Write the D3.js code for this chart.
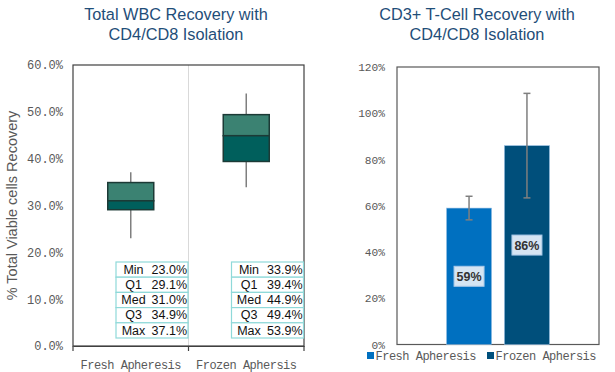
<!DOCTYPE html>
<html>
<head>
<meta charset="utf-8">
<script src="https://cdn.jsdelivr.net/npm/d3@7"></script>
<style>
  body { margin: 0; background: #fff; }
  svg { display: block; }
  .mono { font-family: "Liberation Mono", "DejaVu Sans Mono", monospace; }
</style>
</head>
<body>
<svg id="chart" width="615" height="372"></svg>
<script>
// left chart: box plot
var boxCats = ["Fresh Apheresis", "Frozen Aphersis"];
var boxMin = [0.230, 0.339];
var boxQ1 = [0.291, 0.394];
var boxMed = [0.310, 0.449];
var boxQ3 = [0.349, 0.494];
var boxMax = [0.371, 0.539];
var statNames = ["Min", "Q1", "Med", "Q3", "Max"];
var leftTicks = [0, 0.1, 0.2, 0.3, 0.4, 0.5, 0.6];

// right chart: bars with error bars
var barSeries = ["Fresh Apheresis", "Frozen Aphersis"];
var barValues = [0.59, 0.86];
var barErrors = [0.051, 0.226];
var barColors = ["#0070c0", "#004f7b"];
var rightTicks = [0, 0.2, 0.4, 0.6, 0.8, 1.0, 1.2];

var svg = d3.select("#chart");
var fmt1 = d3.format(".1%");
var fmt0 = d3.format(".0%");

// ---------- left ----------
var L = { left: 73, right: 304, top: 65, bottom: 346 };
var gL = svg.append("g");

gL.append("text").attr("x", 176).attr("y", 20).attr("text-anchor", "middle")
  .attr("font-family", "Liberation Sans, Arial").attr("font-size", 16.3).attr("fill", "#1f4e79")
  .text("Total WBC Recovery with");
gL.append("text").attr("x", 176).attr("y", 40).attr("text-anchor", "middle")
  .attr("font-family", "Liberation Sans, Arial").attr("font-size", 16.3).attr("fill", "#1f4e79")
  .text("CD4/CD8 Isolation");

var xL = d3.scaleBand().domain(boxCats).range([L.left, L.right]).padding(0);
var yL = d3.scaleLinear().domain([0, 0.6]).range([L.bottom, L.top]);

// divider between categories
gL.append("line")
  .attr("x1", xL(boxCats[1])).attr("x2", xL(boxCats[1]))
  .attr("y1", L.top).attr("y2", L.bottom)
  .attr("stroke", "#d9d9d9").attr("stroke-width", 1);

// frame
gL.append("rect").attr("x", L.left).attr("y", L.top)
  .attr("width", L.right - L.left).attr("height", L.bottom - L.top)
  .attr("fill", "none").attr("stroke", "#404040").attr("stroke-width", 1.2);

// y axis labels
var yAxisL = d3.axisLeft(yL).tickValues(leftTicks).tickFormat(fmt1).tickSize(0).tickPadding(10);
var gy = gL.append("g").attr("transform", `translate(${L.left},0)`).call(yAxisL);
gy.select(".domain").remove();
gy.selectAll("text").attr("class", "mono").attr("font-size", 12).attr("fill", "#595959");

// x axis
var xAxisL = d3.axisBottom(xL).tickSize(0).tickPadding(14);
var gx = gL.append("g").attr("transform", `translate(0,${L.bottom})`).call(xAxisL);
gx.select(".domain").attr("stroke", "#404040").attr("stroke-width", 1.2);
gx.selectAll("text").attr("class", "mono").attr("font-size", 12)
  .attr("letter-spacing", -0.5).attr("fill", "#595959");
// tick marks at band boundaries
gL.selectAll(".bt").data([L.left, xL(boxCats[1]), L.right]).enter().append("line")
  .attr("x1", d => d).attr("x2", d => d)
  .attr("y1", L.bottom).attr("y2", L.bottom + 5)
  .attr("stroke", "#404040").attr("stroke-width", 1.2);

gL.append("text")
  .attr("transform", `translate(17,${(L.top + L.bottom) / 2}) rotate(-90)`)
  .attr("text-anchor", "middle")
  .attr("font-family", "Liberation Sans, Arial").attr("font-size", 14.5).attr("fill", "#595959")
  .text("% Total Viable cells Recovery");

var boxW = 46;
boxCats.forEach(function(c, i) {
  var cx = xL(c) + xL.bandwidth() / 2;
  var g = gL.append("g");
  // whiskers
  g.append("line").attr("x1", cx).attr("x2", cx)
    .attr("y1", yL(boxMax[i])).attr("y2", yL(boxQ3[i]))
    .attr("stroke", "#7f7f7f").attr("stroke-width", 1.5);
  g.append("line").attr("x1", cx).attr("x2", cx)
    .attr("y1", yL(boxQ1[i])).attr("y2", yL(boxMin[i]))
    .attr("stroke", "#7f7f7f").attr("stroke-width", 1.5);
  // upper box
  g.append("rect").attr("x", cx - boxW / 2).attr("y", yL(boxQ3[i]))
    .attr("width", boxW).attr("height", yL(boxMed[i]) - yL(boxQ3[i]))
    .attr("fill", "#3b8272").attr("stroke", "#1c3a36").attr("stroke-width", 1.5);
  // lower box
  g.append("rect").attr("x", cx - boxW / 2).attr("y", yL(boxMed[i]))
    .attr("width", boxW).attr("height", yL(boxQ1[i]) - yL(boxMed[i]))
    .attr("fill", "#005f5c").attr("stroke", "#1c3a36").attr("stroke-width", 1.5);

  // stats table
  var vals = [boxMin[i], boxQ1[i], boxMed[i], boxQ3[i], boxMax[i]];
  var tRight = xL(c) + xL.bandwidth() - 0.5;
  var tW = 72, rowH = 15.2, tTop = 262;
  var rows = g.selectAll(".row").data(statNames).enter().append("g")
    .attr("transform", (d, j) => `translate(${tRight - tW},${tTop + j * rowH})`);
  rows.append("rect").attr("width", tW).attr("height", rowH)
    .attr("fill", "#fff").attr("stroke", "#8fd9d9").attr("stroke-width", 1.2);
  rows.append("text").attr("x", 17.5).attr("y", rowH / 2 + 4.3).attr("text-anchor", "middle")
    .attr("font-family", "Liberation Sans, Arial").attr("font-size", 12.5).attr("fill", "#111")
    .text(d => d);
  rows.append("text").attr("x", tW - 1).attr("y", rowH / 2 + 4.3).attr("text-anchor", "end")
    .attr("font-family", "Liberation Sans, Arial").attr("font-size", 12.5).attr("fill", "#111")
    .text((d, j) => fmt1(vals[j]));
});

// ---------- right ----------
var R = { left: 397, right: 599, top: 67, bottom: 344.5 };
var gR = svg.append("g");

gR.append("text").attr("x", 477).attr("y", 20).attr("text-anchor", "middle")
  .attr("font-family", "Liberation Sans, Arial").attr("font-size", 16.3).attr("fill", "#1f4e79")
  .text("CD3+ T-Cell Recovery with");
gR.append("text").attr("x", 477).attr("y", 40).attr("text-anchor", "middle")
  .attr("font-family", "Liberation Sans, Arial").attr("font-size", 16.3).attr("fill", "#1f4e79")
  .text("CD4/CD8 Isolation");

var yR = d3.scaleLinear().domain([0, 1.2]).range([R.bottom, R.top]);
var xOuter = d3.scaleBand().domain(["all"]).range([R.left, R.right]).paddingOuter(0.48).paddingInner(0);
var xInner = d3.scaleBand().domain(barSeries).range([0, xOuter.bandwidth()]).paddingInner(0.22).paddingOuter(0);

gR.append("rect").attr("x", R.left).attr("y", R.top)
  .attr("width", R.right - R.left).attr("height", R.bottom - R.top)
  .attr("fill", "none").attr("stroke", "#595959").attr("stroke-width", 1.2);

var yAxisR = d3.axisLeft(yR).tickValues(rightTicks).tickFormat(fmt0).tickSize(0).tickPadding(12);
var gyR = gR.append("g").attr("transform", `translate(${R.left},0)`).call(yAxisR);
gyR.select(".domain").remove();
gyR.selectAll("text").attr("class", "mono").attr("font-size", 11.2).attr("fill", "#595959");

barSeries.forEach(function(s, i) {
  var x0 = xOuter("all") + xInner(s);
  var bw = xInner.bandwidth();
  var cx = x0 + bw / 2;
  gR.append("rect").attr("x", x0).attr("y", yR(barValues[i]))
    .attr("width", bw).attr("height", yR(0) - yR(barValues[i]))
    .attr("fill", barColors[i]).attr("stroke", "#9dc3e6").attr("stroke-width", 0.6);
  // error bar
  var eTop = yR(barValues[i] + barErrors[i]), eBot = yR(barValues[i] - barErrors[i]);
  gR.append("line").attr("x1", cx).attr("x2", cx).attr("y1", eTop).attr("y2", eBot)
    .attr("stroke", "#7f7f7f").attr("stroke-width", 1.5);
  [eTop, eBot].forEach(function(y) {
    gR.append("line").attr("x1", cx - 3.5).attr("x2", cx + 3.5).attr("y1", y).attr("y2", y)
      .attr("stroke", "#7f7f7f").attr("stroke-width", 1.5);
  });
  // data label
  var ly = (yR(barValues[i]) + yR(0)) / 2;
  gR.append("rect").attr("x", cx - 15).attr("y", ly - 10)
    .attr("width", 30).attr("height", 20)
    .attr("fill", "#d6e5f3").attr("stroke", "#a9c9e8").attr("stroke-width", 1);
  gR.append("text").attr("x", cx).attr("y", ly + 4.5).attr("text-anchor", "middle")
    .attr("font-family", "Liberation Sans, Arial").attr("font-weight", "bold")
    .attr("font-size", 12.5).attr("fill", "#333")
    .text(fmt0(barValues[i]));
});

// legend
var legX = [367, 487];
barSeries.forEach(function(s, i) {
  gR.append("rect").attr("x", legX[i]).attr("y", 352).attr("width", 7).attr("height", 7)
    .attr("fill", barColors[i]);
  gR.append("text").attr("x", legX[i] + 8.5).attr("y", 360)
    .attr("class", "mono").attr("font-size", 12).attr("letter-spacing", -0.5)
    .attr("fill", "#595959").text(s);
});
</script>
</body>
</html>
